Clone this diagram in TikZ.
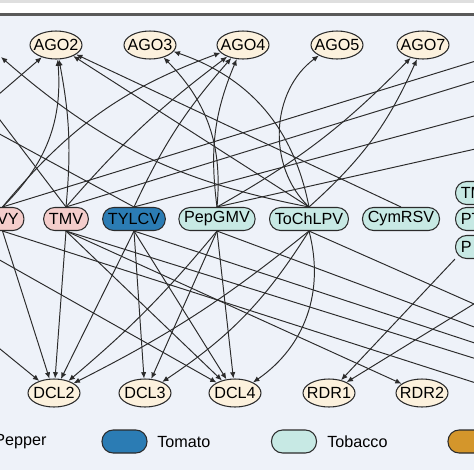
\documentclass[tikz,border=0pt]{standalone}
\usepackage{fontspec}
\setmainfont{Liberation Sans}
\usepackage{tikz}
\usetikzlibrary{arrows.meta}
\usetikzlibrary{shapes.geometric}

\definecolor{bgcol}{HTML}{EEF2F9}
\definecolor{linecol}{HTML}{2B2B2B}
\definecolor{genecol}{HTML}{FCF1DD}
\definecolor{pepcol}{HTML}{F4CDCB}
\definecolor{tomcol}{HTML}{2B7CB4}
\definecolor{tobcol}{HTML}{C7E9E4}
\definecolor{orcol}{HTML}{D4962B}

\begin{document}
\begin{tikzpicture}[x=0.02cm, y=0.02cm,
  gene/.style={ellipse, draw=linecol, fill=genecol, line width=0.6pt, minimum width=1.04cm, minimum height=0.56cm, inner xsep=-4pt, inner ysep=0.5pt, font=\fontsize{9.2}{11}\selectfont},
  virus/.style={rectangle, rounded corners=6.3pt, draw=linecol, line width=0.6pt, minimum height=0.46cm, inner xsep=3pt, inner ysep=0pt, font=\fontsize{9.2}{11}\selectfont},
  pepv/.style={virus, fill=pepcol},
  tomv/.style={virus, fill=tomcol},
  tobv/.style={virus, fill=tobcol},
  cutv/.style={tobv, anchor=west, text width=1.1cm, align=left},
  link/.style={draw=linecol, line width=0.55pt, -{Latex[length=3.6pt, width=3.1pt]}},
  swatch/.style={rectangle, rounded corners=6.3pt, draw=linecol, line width=0.6pt, minimum width=0.9cm, minimum height=0.46cm},
  legtext/.style={anchor=west, inner sep=0pt, font=\fontsize{9.2}{11}\selectfont}
]

\useasboundingbox (0,0) rectangle (474,-474);
\clip (0,0) rectangle (474,-474);

\fill[gray!25] (0,0) rectangle (474,-2.5);
\fill[white] (0,-2.5) rectangle (474,-13);
\fill[gray!70!black] (0,-13) rectangle (474,-15.5);
\fill[bgcol] (0,-15.5) rectangle (474,-470);
\fill[white] (0,-470) rectangle (474,-474);

\node[gene] (AGO2) at (56,-45) {AGO2};
\node[gene] (AGO3) at (150,-45) {AGO3};
\node[gene] (AGO4) at (243,-45) {AGO4};
\node[gene] (AGO5) at (337,-45) {AGO5};
\node[gene] (AGO7) at (423,-45) {AGO7};

\node[pepv] (PVY) at (2.5,-219) {PVY};
\node[pepv] (TMV) at (66,-219) {TMV};
\node[tomv] (TYLCV) at (134,-219) {TYLCV};
\node[tobv] (PepGMV) at (217,-219) {PepGMV};
\node[tobv] (ToChLPV) at (309,-219) {ToChLPV};
\node[tobv] (CymRSV) at (401,-219) {CymRSV};
\node[cutv] (TM) at (455,-193) {TM};
\node[cutv] (PT) at (455,-219) {PT};
\node[cutv] (P) at (455,-247) {P};

\node[gene] (DCL2) at (54,-393) {DCL2};
\node[gene] (DCL3) at (145,-393) {DCL3};
\node[gene] (DCL4) at (235,-393) {DCL4};
\node[gene] (RDR1) at (329,-393) {RDR1};
\node[gene] (RDR2) at (422,-393) {RDR2};

\coordinate (srcL1) at (-45,-132);
\coordinate (srcL2) at (-60,-300);
\coordinate (srcL3) at (-80,-215);
\coordinate (srcR1) at (560,-251);
\coordinate (tgtL1) at (1,-57);
\coordinate (tgtL2) at (-100,-80);
\coordinate (tgtL3) at (-60,-41);
\coordinate (tgtR1) at (560,-35);
\coordinate (tgtR2) at (560,-55);
\coordinate (tgtR3) at (560,-93);
\coordinate (tgtR4) at (560,-130);
\coordinate (tgtR5) at (560,-410);
\coordinate (tgtR6) at (560,-385);
\coordinate (tgtR7) at (560,-371);
\coordinate (tgtR8) at (560,-359);
\coordinate (tgtR9) at (560,-342);

\draw[link] (srcL1) -- (AGO2);
\draw[link] (PVY.north) to[bend right=25] (AGO2);
\draw[link] (TMV.north) to[bend right=8] (AGO2);
\draw[link] (ToChLPV.north) -- (AGO2);
\draw[link] (CymRSV.north) -- (AGO2);
\draw[link] (PepGMV.north) to[bend right=25] (AGO3);
\draw[link] (ToChLPV.north) to[bend right=30] (AGO3);
\draw[link] (PVY.north) to[bend left=15] (AGO4);
\draw[link] (TMV.north) to[bend left=6] (AGO4);
\draw[link] (TYLCV.north) to[bend left=8] (AGO4);
\draw[link] (PepGMV.north) to[bend left=15] (AGO4);
\draw[link] (ToChLPV.north) to[bend left=50] (AGO5);
\draw[link] (PepGMV.north) to[bend right=8] (AGO7);
\draw[link] (ToChLPV.north) to[bend right=12] (AGO7);
\draw[link] (ToChLPV.north) to[bend left=15] (tgtL1);
\draw[link] (TYLCV.north) -- (tgtL2);
\draw[link] (TMV.north) -- (tgtL3);
\draw[link] (PVY.north) -- (tgtR1);
\draw[link] (TMV.north) -- (tgtR2);
\draw[link] (TYLCV.north) -- (tgtR3);
\draw[link] (PepGMV.north) -- (tgtR4);

\draw[link] (srcL2) -- (DCL2);
\draw[link] (PVY.south) -- (DCL2);
\draw[link] (TMV.south) -- (DCL2);
\draw[link] (TYLCV.south) -- (DCL2);
\draw[link] (PepGMV.south) to[bend left=5] (DCL2);
\draw[link] (ToChLPV.south) to[bend left=6] (DCL2);
\draw[link] (TYLCV.south) -- (DCL3);
\draw[link] (PepGMV.south) -- (DCL3);
\draw[link] (ToChLPV.south) to[bend left=12] (DCL3);
\draw[link] (srcL3) -- (DCL4);
\draw[link] (TMV.south) -- (DCL4);
\draw[link] (TYLCV.south) -- (DCL4);
\draw[link] (PepGMV.south) -- (DCL4);
\draw[link] (ToChLPV.south) to[bend left=35] (DCL4);
\draw[link] (P.south west) -- (RDR1);
\draw[link] (srcR1) -- (RDR1);
\draw[link] (TMV.south) -- (RDR2);
\draw[link] (PVY.south) -- (tgtR5);
\draw[link] (TMV.south) -- (tgtR6);
\draw[link] (TYLCV.south) -- (tgtR7);
\draw[link] (PepGMV.south) -- (tgtR8);
\draw[link] (ToChLPV.south) -- (tgtR9);

\node[legtext] (peplab) at (-6,-442) {Pepper};
\node[swatch, fill=tomcol] (tomsw) at (124.5,-441.5) {};
\node[legtext] (tomlab) at (157,-442) {Tomato};
\node[swatch, fill=tobcol] (tobsw) at (294,-441.5) {};
\node[legtext] (toblab) at (327,-442) {Tobacco};
\node[swatch, fill=orcol] (orsw) at (470.5,-441.5) {};

\end{tikzpicture}
\end{document}
